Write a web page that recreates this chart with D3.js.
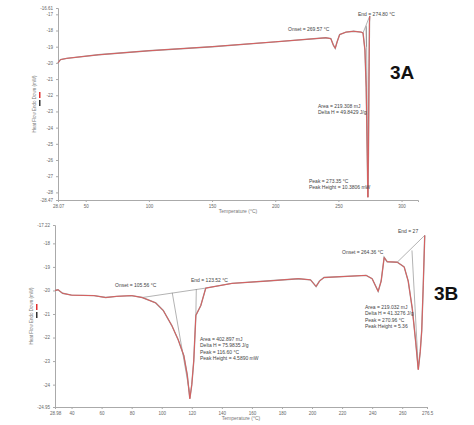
<!DOCTYPE html>
<html><head><meta charset="UTF-8">
<script src="https://d3js.org/d3.v7.min.js"></script>
<style>body{margin:0;background:#fff} text{font-family:"Liberation Sans",Arial,sans-serif}</style>
</head><body>
<script>
// Panel A data: [temperature °C, heat flow mW]
const curveA = [[28.07,-20.0],[30,-19.8],[35,-19.72],[60,-19.5],[100,-19.25],[150,-19.0],[200,-18.7],[240,-18.45],[244,-18.5],[246,-18.9],[247.5,-19.1],[249,-18.7],[251,-18.25],[256,-18.1],[262,-18.05],[268,-18.1],[269.5,-18.15],[271,-19.2],[272,-21.5],[272.8,-25.5],[273.35,-28.3],[273.8,-25.5],[274.2,-21],[274.6,-17.5],[274.8,-17.1]];
// Panel B data
const curveB = [[28.98,-20.0],[31,-19.97],[34,-20.12],[40,-20.2],[55,-20.22],[62.7,-20.3],[70,-20.25],[80,-20.22],[87,-20.3],[96,-20.53],[101,-20.85],[106.7,-21.49],[111,-22.1],[114.7,-22.77],[117,-23.6],[118.7,-24.6],[120,-24.0],[121.3,-23.0],[122.7,-21.06],[126,-20.64],[129.3,-19.9],[146.7,-19.7],[170,-19.6],[191,-19.5],[199,-19.55],[202.7,-19.83],[205,-19.6],[208,-19.45],[236,-19.36],[240,-19.5],[244,-20.04],[246,-19.6],[248,-18.6],[250,-18.78],[256.7,-18.8],[261.3,-19.0],[264,-19.6],[266.7,-20.77],[269,-22.2],[270.7,-23.36],[272,-22.6],[273,-21.7],[274,-19.8],[275,-17.66]];

const domainAx = [28.07, 313];
const ticksAx = [28.07,50,100,150,200,250,300];
const ticksAy = [-16.61,-17,-18,-19,-20,-21,-22,-23,-24,-25,-26,-27,-28,-28.47];
const domainBx = [28.98, 276.5];
const ticksBx = [28.98,40,60,80,100,120,140,160,180,200,220,240,260,276.5];
const ticksBy = [-17.22,-18,-19,-20,-21,-22,-23,-24,-24.95];

const notesA = [
  {t:"Onset = 269.57 °C", x:288, y:31}, {t:"End = 274.80 °C", x:358, y:16},
  {t:"Area = 219.308 mJ", x:318, y:108}, {t:"Delta H = 49.8429 J/g", x:318, y:114},
  {t:"Peak = 273.35 °C", x:309, y:183}, {t:"Peak Height = 10.3806 mW", x:309, y:189}];
const notesB = [
  {t:"Onset = 105.56 °C", x:115, y:287}, {t:"End = 123.52 °C", x:191, y:282},
  {t:"Area = 402.897 mJ", x:200, y:341}, {t:"Delta H = 75.9835 J/g", x:200, y:347},
  {t:"Peak = 116.60 °C", x:200, y:354}, {t:"Peak Height = 4.5890 mW", x:200, y:360},
  {t:"Onset = 264.36 °C", x:342, y:254}, {t:"End = 27", x:398, y:233},
  {t:"Area = 219.032 mJ", x:365, y:309}, {t:"Delta H = 41.3276 J/g", x:365, y:315},
  {t:"Peak = 270.96 °C", x:365, y:322}, {t:"Peak Height = 5.36", x:365, y:328}];

const svg = d3.select("body").append("svg").attr("width",474).attr("height",425);

function panel(curve, dx, tx, ty, xr, yr, notes, baseT, label, lx, ly) {
  const x = d3.scaleLinear().domain(dx).range(xr);
  const y = d3.scaleLinear().domain([ty[0], ty[ty.length-1]]).range(yr);
  const g = svg.append("g");
  g.append("g").attr("transform",`translate(0,${yr[1]})`)
    .call(d3.axisBottom(x).tickValues(tx).tickSize(2).tickFormat(d=>d))
    .call(a=>a.selectAll("text").attr("font-size",4.5).attr("fill","#666"))
    .call(a=>a.selectAll("line,path").attr("stroke","#aaa"));
  g.append("g").attr("transform",`translate(${xr[0]},0)`)
    .call(d3.axisLeft(y).tickValues(ty).tickSize(2).tickFormat(d=>d))
    .call(a=>a.selectAll("text").attr("font-size",4.5).attr("fill","#666"))
    .call(a=>a.selectAll("line,path").attr("stroke","#aaa"));
  g.append("text").attr("x",(xr[0]+xr[1])/2).attr("y",yr[1]+13).attr("text-anchor","middle")
    .attr("font-size",5).attr("fill","#777").text("Temperature (°C)");
  g.append("text").attr("transform",`translate(${xr[0]-22},${(yr[0]+yr[1])/2}) rotate(-90)`)
    .attr("text-anchor","middle").attr("font-size",4.5).attr("fill","#777").text("Heat Flow Endo Down (mW)");
  g.append("rect").attr("x",xr[0]-19).attr("y",(yr[0]+yr[1])/2-12).attr("width",1.5).attr("height",6).attr("fill","#e03030");
  g.append("rect").attr("x",xr[0]-19).attr("y",(yr[0]+yr[1])/2-4).attr("width",1.5).attr("height",6).attr("fill","#333");
  const line = d3.line().x(d=>x(d[0])).y(d=>y(d[1]));
  baseT.forEach(b => {
    g.append("line").attr("x1",x(b[0][0])).attr("y1",y(b[0][1])).attr("x2",x(b[1][0])).attr("y2",y(b[1][1]))
      .attr("stroke","#666").attr("stroke-width",0.5);
  });
  g.append("path").datum(curve).attr("d",line).attr("fill","none").attr("stroke","#999").attr("stroke-width",1.4);
  g.append("path").datum(curve).attr("d",line).attr("fill","none").attr("stroke","#e05858").attr("stroke-width",0.9);
  notes.forEach(n => g.append("text").attr("x",n.x).attr("y",n.y).attr("font-size",5).attr("fill","#444").text(n.t));
  g.append("text").attr("x",lx).attr("y",ly).attr("font-family","Liberation Serif,serif").attr("font-weight","bold")
    .attr("font-size",19).attr("fill","#111").text(label);
}

panel(curveA, domainAx, ticksAx, ticksAy, [58,418], [8,200], notesA,
  [[[269.5,-18.15],[274.8,-17.1]],[[272.2,-17.7],[273.35,-28.3]],[[271.8,-17.8],[272.2,-19]]], "3A", 390, 79);
panel(curveB, domainBx, ticksBx, ticksBy, [55,427], [225,407], notesB,
  [[[87,-20.3],[129.3,-19.9]],[[107,-20.1],[118.7,-24.4]],[[123,-19.95],[122.7,-21.06]],
   [[256.7,-18.8],[275,-17.66]],[[266.5,-18.3],[270.7,-23.3]]], "3B", 434, 300);
</script>
</body></html>
